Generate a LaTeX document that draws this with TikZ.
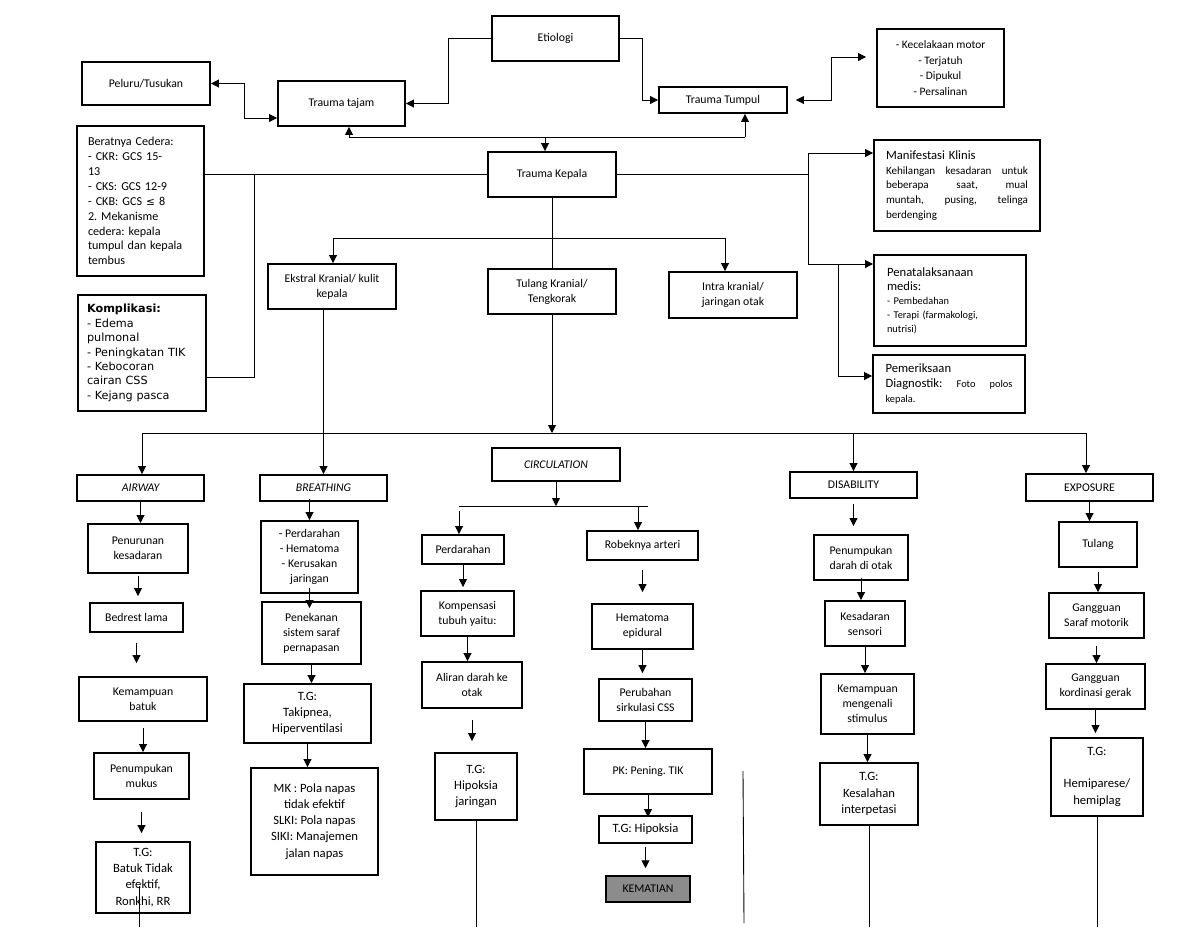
\documentclass[tikz,border=0pt]{standalone}
\usepackage{fontspec}
\setmainfont{Carlito}
\newfontfamily\verdfont{DejaVu Sans}
\usetikzlibrary{arrows.meta}
\newcommand{\headfont}{\fontsize{7.2}{9}\selectfont}
\frenchspacing

\begin{document}
\begin{tikzpicture}[x=0.02cm, y=-0.02cm,
  box/.style={draw, line width=1.1pt, align=center, inner sep=1pt, font=\fontsize{6.7}{8.5}\selectfont},
  tgbox/.style={box, font=\fontsize{7.2}{9.2}\selectfont},
  conn/.style={line width=0.5pt},
  arr/.style={conn, -{Triangle[length=4.5pt,width=4.5pt]}},
  arrs/.style={conn, {Triangle[length=4.5pt,width=4.5pt]}-{Triangle[length=4.5pt,width=4.5pt]}}]
\useasboundingbox (0,0) rectangle (1200,927);

% Etiologi
\node[box, minimum width=2.54cm, minimum height=0.9cm] (etio) at (555.5,38.5) {Etiologi};
\node[box, minimum width=2.54cm, minimum height=0.9cm] (tajam) at (341.5,103.5) {Trauma tajam};
\node[box, minimum width=2.56cm, minimum height=0.86cm] (peluru) at (146,83.5) {Peluru/Tusukan};
\node[box, minimum width=2.56cm, minimum height=0.52cm] (tumpul) at (723,100) {Trauma Tumpul};
\node[box, minimum width=2.54cm, minimum height=1.56cm, font=\fontsize{6.5}{9}\selectfont] (sebab) at (940.5,68)
  {- Kecelakaan motor\\- Terjatuh\\- Dipukul\\- Persalinan};
\draw[arr] (etio.west) -- ++(-43,0) |- (tajam.east);
\draw[arr] (etio.east) -- ++(22,0) |- (tumpul.west);
\draw[arrs, shorten <=0.16cm, shorten >=0.2cm] (tumpul.east) -- ++(43,0) |- ([yshift=0.22cm]sebab.west);
\draw[arrs] (peluru.east) -- ++(33,0) |- ([yshift=-0.29cm]tajam.west);

% Trauma Kepala
\node[box, minimum width=2.56cm, minimum height=0.9cm] (kepala) at (552,174.5) {Trauma Kepala};
\coordinate (j1) at (349,137);
\coordinate (j2) at (745,137);
\coordinate (j3) at (545,137);
\draw[conn] (j1) -- (j2);
\draw[arr] (j1) -- (j1 |- tajam.south);
\draw[arr] (j2) -- (j2 |- tumpul.south);
\draw[arr] (j3) -- (j3 |- kepala.north);

% Beratnya cedera dan komplikasi
\node[box, minimum width=2.54cm, minimum height=3cm, text width=2.1cm, align=left, font=\fontsize{6.9}{8.5}\selectfont] (berat) at (140.5,201)
  {Beratnya Cedera:\\- CKR: GCS 15-\\13\\- CKS: GCS 12-9\\- CKB: GCS {\verdfont\fontsize{6}{8.5}\selectfont ≤} 8\\2. Mekanisme\\cedera: kepala\\tumpul dan kepala\\tembus};
\node[box, minimum width=2.56cm, minimum height=2.32cm, text width=2.2cm, align=left, font={\verdfont\fontsize{6.4}{8.2}\selectfont}] (kompl) at (142,353)
  {\textbf{Komplikasi:}\\- Edema\\pulmonal\\- Peningkatan TIK\\- Kebocoran\\cairan CSS\\- Kejang pasca};
\coordinate (k0) at (254,174.5);
\draw[conn] (kepala.west) -- (kepala.west -| berat.east);
\draw[conn] (k0) |- ([yshift=-0.48cm]kompl.east);

% Manifestasi, penatalaksanaan, pemeriksaan
\node[box, minimum width=3.32cm, minimum height=1.82cm, text width=2.84cm, align=left, font=\fontsize{6.3}{8.3}\selectfont] (manif) at (957,185.5)
  {{\headfont Manifestasi Klinis}\\Kehilangan\hfill kesadaran\hfill untuk\\beberapa\hfill saat,\hfill mual\\muntah,\hfill pusing,\hfill telinga\\berdenging};
\node[box, minimum width=3.04cm, minimum height=1.82cm, text width=2.52cm, align=left, font=\fontsize{5.9}{8}\selectfont] (penat) at (950,300.5)
  {{\headfont Penatalaksanaan}\\{\headfont medis:}\\- Pembedahan\\- Terapi (farmakologi,\\nutrisi)};
\node[box, minimum width=3.04cm, minimum height=1.16cm, text width=2.54cm, align=left, font=\fontsize{5.9}{8.5}\selectfont] (diag) at (949,384)
  {{\headfont Pemeriksaan}\\{\headfont Diagnostik:}\hfill Foto\hfill polos\\kepala.};
\coordinate (m1) at (808,153);
\coordinate (m2) at (808,264);
\coordinate (m3) at (838,264);
\coordinate (m4) at (838,376);
\draw[conn] (kepala.east) -- (kepala.east -| m1);
\draw[conn] (m1) -- (m2) -- (m3) -- (m4);
\draw[arr] (m1) -- (m1 -| manif.west);
\draw[arr] (m2) -- (m2 -| penat.west);
\draw[arr] (m4) -- (m4 -| diag.west);

% Cabang trauma kepala
\node[box, minimum width=2.56cm, minimum height=0.9cm] (ekstra) at (332,286.5) {Ekstral Kranial/ kulit\\kepala};
\node[box, minimum width=2.56cm, minimum height=0.9cm] (tulang) at (552,291.5) {Tulang Kranial/\\Tengkorak};
\node[box, minimum width=2.56cm, minimum height=0.92cm] (intra) at (733,295) {Intra kranial/\\jaringan otak};
\coordinate (c1) at (333,238);
\coordinate (c2) at (725,238);
\draw[conn] (kepala.south) -- (tulang.north);
\draw[conn] (c1) -- (c2);
\draw[arr] (c1) -- (c1 |- ekstra.north);
\draw[arr] (c2) -- (c2 |- intra.north);

% ABCDE
\node[box, minimum width=2.54cm, minimum height=0.52cm] (airway) at (140.5,488) {\itshape AIRWAY};
\node[box, minimum width=2.54cm, minimum height=0.52cm] (breath) at (323.5,488) {\itshape BREATHING};
\node[box, minimum width=2.56cm, minimum height=0.66cm] (circ) at (556,464.5) {\itshape CIRCULATION};
\node[box, minimum width=2.54cm, minimum height=0.52cm] (disab) at (853.5,485) {DISABILITY};
\node[box, minimum width=2.54cm, minimum height=0.54cm] (expo) at (1089.5,487.5) {EXPOSURE};
\coordinate (h1) at (142,433);
\coordinate (h2) at (1086,433);
\draw[conn] (h1) -- (h2);
\draw[arr] (h1) -- (h1 |- airway.north);
\draw[arr] (breath.north |- ekstra.south) -- (breath.north);
\draw[arr] (tulang.south) -- (tulang.south |- h1);
\draw[arr] (disab.north |- h1) -- (disab.north);
\draw[arr] (h2) -- (h2 |- expo.north);

% Airway
\node[box, minimum width=2cm, minimum height=0.98cm] (a1) at (138,548.5) {Penurunan\\kesadaran};
\node[box, minimum width=1.86cm, minimum height=0.58cm] (a2) at (136.5,617.5) {Bedrest lama};
\node[box, minimum width=2.56cm, minimum height=0.88cm] (a3) at (143,699) {Kemampuan\\batuk};
\node[box, minimum width=1.9cm, minimum height=0.92cm] (a4) at (141.5,776) {Penumpukan\\mukus};
\node[tgbox, minimum width=1.88cm, minimum height=1.42cm] (a5) at (143,877.5) {T.G:\\Batuk Tidak\\efektif,\\Ronkhi, RR};
\draw[arr] (airway.south) -- (airway.south |- a1.north);
\draw[arr, shorten <=0.04cm, shorten >=0.12cm] (a1.south) -- (a1.south |- a2.north);
\draw[arr, shorten <=0.2cm, shorten >=0.26cm] (a2.south) -- (a2.south |- a3.north);
\draw[arr, shorten <=0.12cm] (a3.south) -- (a3.south |- a4.north);
\draw[arr, shorten <=0.24cm, shorten >=0.16cm] (a4.south) -- (a4.south |- a5.north);
\draw[conn] ([xshift=-0.08cm,yshift=-0.16cm]a5.center) -- ([xshift=-0.08cm]a5.center |- 0,927);

% Breathing
\node[box, minimum width=1.94cm, minimum height=1.44cm] (b1) at (309.5,557) {- Perdarahan\\- Hematoma\\- Kerusakan\\jaringan};
\node[box, minimum width=1.98cm, minimum height=1.24cm] (b2) at (311.5,633) {Penekanan\\sistem saraf\\pernapasan};
\node[tgbox, minimum width=2.54cm, minimum height=1.18cm] (b3) at (307.5,713.5) {T.G:\\Takipnea,\\Hiperventilasi};
\node[tgbox, minimum width=2.54cm, minimum height=2.14cm] (b4) at (314.5,821.5) {MK : Pola napas\\tidak efektif\\SLKI: Pola napas\\SIKI: Manajemen\\jalan napas};
\draw[arr, shorten <=-0.06cm] (b1.north |- breath.south) -- (b1.north);
\draw[arr] ([yshift=0.12cm]b1.south) -- ([yshift=-0.14cm]b1.south |- b2.north);
\draw[arr] (b2.south) -- (b2.south |- b3.north);
\draw[arr] (b3.south) -- (b3.south |- b4.north);

% Circulation
\node[box, minimum width=1.64cm, minimum height=0.58cm] (p1) at (463,549.5) {Perdarahan};
\node[box, minimum width=1.86cm, minimum height=0.9cm] (p2) at (467.5,613.5) {Kompensasi\\tubuh yaitu:};
\node[box, minimum width=2cm, minimum height=0.92cm] (p3) at (472,685) {Aliran darah ke\\otak};
\node[tgbox, minimum width=1.64cm, minimum height=1.34cm] (p4) at (476,786.5) {T.G:\\Hipoksia\\jaringan};
\node[box, minimum width=2.22cm, minimum height=0.58cm] (r1) at (642.5,545.5) {Robeknya arteri};
\node[box, minimum width=2.02cm, minimum height=0.9cm] (r2) at (642.5,626.5) {Hematoma\\epidural};
\node[box, minimum width=1.86cm, minimum height=0.84cm] (r3) at (645.5,700) {Perubahan\\sirkulasi CSS};
\node[box, minimum width=2.56cm, minimum height=0.9cm] (r4) at (648,771.5) {PK: Pening. TIK};
\node[tgbox, minimum width=1.86cm, minimum height=0.54cm] (r5) at (645.5,829.5) {T.G: Hipoksia};
\node[box, line width=0.9pt, fill=black!45, minimum width=1.68cm, minimum height=0.52cm] (r6) at (648,889) {KEMATIAN};
\coordinate (s0) at (556,506);
\coordinate (s1) at (459,506);
\coordinate (s2) at (648,506);
\coordinate (s3) at (638,506);
\draw[arr] (circ.south) -- (s0);
\draw[conn] (s1) -- (s2);
\draw[arr, shorten <=0.1cm] (s1) -- (s1 |- p1.north);
\draw[arr] (s3) -- (s3 |- r1.north);
\draw[arr, shorten >=0.06cm] (p1.south) -- (p1.south |- p2.north);
\draw[arr] (p2.south) -- (p2.south |- p3.north);
\draw[arr, shorten <=0.22cm, shorten >=0.22cm] (p3.south) -- (p3.south |- p4.north);
\draw[conn] (p4.south) -- (p4.south |- 0,927);
\draw[arr, shorten <=0.18cm, shorten >=0.22cm] (r1.south) -- (r1.south |- r2.north);
\draw[arr, shorten >=0.1cm] (r2.south) -- (r2.south |- r3.north);
\draw[arr] (r3.south) -- (r3.south |- r4.north);
\draw[arr, shorten >=-0.04cm] (r4.south) -- (r4.south |- r5.north);
\draw[arr, shorten <=0.06cm, shorten >=0.14cm] (r5.south) -- (r5.south |- r6.north);
\draw[conn] (743,771) -- (744,923);

% Disability
\node[box, minimum width=1.88cm, minimum height=0.9cm] (d1) at (861,557.5) {Penumpukan\\darah di otak};
\node[box, minimum width=1.6cm, minimum height=0.9cm] (d2) at (865,623.5) {Kesadaran\\sensori};
\node[box, minimum width=1.86cm, minimum height=1.2cm] (d3) at (867.5,704) {Kemampuan\\mengenali\\stimulus};
\node[tgbox, minimum width=1.96cm, minimum height=1.24cm] (d4) at (869,794) {T.G:\\Kesalahan\\interpetasi};
\draw[arr, shorten <=0.1cm, shorten >=0.16cm] (disab.south) -- (disab.south |- d1.north);
\draw[arr, shorten <=-0.06cm] (d1.south) -- (d1.south |- d2.north);
\draw[arr] (d2.south) -- (d2.south |- d3.north);
\draw[arr] (d3.south) -- (d3.south |- d4.north);
\draw[conn] (d4.south) -- (d4.south |- 0,927);

% Exposure
\node[box, minimum width=1.56cm, minimum height=0.9cm] (e1) at (1098,544.5) {Tulang};
\node[box, minimum width=1.9cm, minimum height=0.9cm] (e2) at (1096.5,615.5) {Gangguan\\Saraf motorik};
\node[box, minimum width=1.98cm, minimum height=0.9cm] (e3) at (1095.5,686.5) {Gangguan\\kordinasi gerak};
\node[tgbox, minimum width=1.84cm, minimum height=1.56cm] (e4) at (1097,777) {T.G:\\[9pt]Hemiparese/\\hemiplag};
\draw[arr] (expo.south) -- (expo.south |- e1.north);
\draw[arr, shorten <=0.08cm] (e1.south) -- (e1.south |- e2.north);
\draw[arr, shorten <=0.14cm] (e2.south) -- (e2.south |- e3.north);
\draw[arr, shorten >=0.08cm] (e3.south) -- (e3.south |- e4.north);
\draw[conn] (e4.south) -- (e4.south |- 0,927);
\end{tikzpicture}
\end{document}
